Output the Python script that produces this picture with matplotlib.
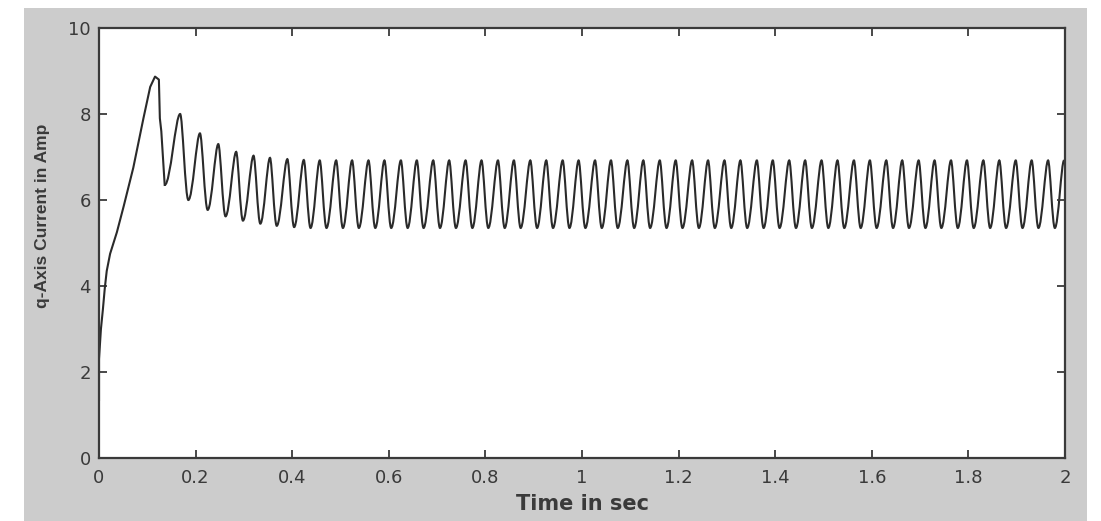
import matplotlib
matplotlib.use("Agg")
import matplotlib.pyplot as plt
import numpy as np
from matplotlib.patches import Rectangle, PathPatch
from matplotlib.path import Path

# start-up transient (time in s, current in A)
rise_t = [0.0, 0.0, 0.004, 0.008, 0.012, 0.016, 0.023, 0.037, 0.051, 0.071,
          0.092, 0.106, 0.116, 0.124, 0.126, 0.129]
rise_i = [1.35, 2.3, 3.0, 3.45, 3.95, 4.35, 4.75, 5.25, 5.85, 6.75,
          7.9, 8.63, 8.87, 8.8, 7.9, 7.6]

# oscillation maxima
peak_t = [0.168, 0.209, 0.247, 0.284, 0.320, 0.354, 0.390, 0.424, 0.457,
          0.491, 0.524, 0.558, 0.591, 0.625, 0.658, 0.692, 0.725, 0.759,
          0.792, 0.826, 0.859, 0.893, 0.926, 0.960, 0.993, 1.027, 1.060,
          1.094, 1.127, 1.161, 1.194, 1.228, 1.261, 1.295, 1.328, 1.362,
          1.395, 1.429, 1.462, 1.496, 1.529, 1.563, 1.596, 1.630, 1.663,
          1.697, 1.730, 1.764, 1.797, 1.831, 1.864, 1.898, 1.931, 1.965,
          1.998]
peak_i = [8.0, 7.55, 7.3, 7.12, 7.03, 6.98, 6.95, 6.93, 6.92,
          6.92, 6.92, 6.92, 6.92, 6.92, 6.92, 6.92, 6.92, 6.92,
          6.92, 6.92, 6.92, 6.92, 6.92, 6.92, 6.92, 6.92, 6.92,
          6.92, 6.92, 6.92, 6.92, 6.92, 6.92, 6.92, 6.92, 6.92,
          6.92, 6.92, 6.92, 6.92, 6.92, 6.92, 6.92, 6.92, 6.92,
          6.92, 6.92, 6.92, 6.92, 6.92, 6.92, 6.92, 6.92, 6.92,
          6.92]

# oscillation minima
trough_t = [0.136, 0.185, 0.225, 0.262, 0.298, 0.334, 0.368, 0.404, 0.438,
            0.471, 0.505, 0.538, 0.572, 0.605, 0.639, 0.672, 0.706, 0.739,
            0.773, 0.806, 0.840, 0.873, 0.907, 0.940, 0.974, 1.007, 1.041,
            1.074, 1.108, 1.141, 1.175, 1.208, 1.242, 1.275, 1.309, 1.342,
            1.376, 1.409, 1.443, 1.476, 1.510, 1.543, 1.577, 1.610, 1.644,
            1.677, 1.711, 1.744, 1.778, 1.811, 1.845, 1.878, 1.912, 1.945,
            1.979]
trough_i = [6.35, 6.0, 5.77, 5.62, 5.52, 5.45, 5.40, 5.37, 5.35,
            5.35, 5.35, 5.35, 5.35, 5.35, 5.35, 5.35, 5.35, 5.35,
            5.35, 5.35, 5.35, 5.35, 5.35, 5.35, 5.35, 5.35, 5.35,
            5.35, 5.35, 5.35, 5.35, 5.35, 5.35, 5.35, 5.35, 5.35,
            5.35, 5.35, 5.35, 5.35, 5.35, 5.35, 5.35, 5.35, 5.35,
            5.35, 5.35, 5.35, 5.35, 5.35, 5.35, 5.35, 5.35, 5.35,
            5.35]

x_ticks = [0, 0.2, 0.4, 0.6, 0.8, 1, 1.2, 1.4, 1.6, 1.8, 2]
x_labels = ["0", "0.2", "0.4", "0.6", "0.8", "1", "1.2", "1.4", "1.6", "1.8", "2"]
y_ticks = [0, 2, 4, 6, 8, 10]

GRAY = "#cccccc"
DARK = "#3a3a3a"
LINE = "#2a2a2a"
PEAK_TAN = 0.3     # how sharp the maxima look
TROUGH_TAN = 0.38  # how round the minima look

plt.rcParams["font.family"] = ["DejaVu Sans"]

fig = plt.figure(figsize=(11.01, 5.21), dpi=100, facecolor="white")
# matlab style grey window behind the axes
fig.patches.append(Rectangle((24 / 1101., 0), 1063 / 1101., 513 / 521.,
                             transform=fig.transFigure, facecolor=GRAY,
                             edgecolor="none", zorder=-10))

ax = fig.add_axes([99 / 1101., 63 / 521., 966 / 1101., 430 / 521.])
ax.set_facecolor("white")

# transient part as a plain polyline
ax.plot(rise_t + [trough_t[0]], rise_i + [trough_i[0]], color=LINE,
        linewidth=1.5, solid_joinstyle="round")

# oscillation: smooth bezier strokes between consecutive extrema
ext_t = np.concatenate([trough_t, peak_t])
ext_i = np.concatenate([trough_i, peak_i])
is_peak = np.concatenate([np.zeros(len(trough_t), bool), np.ones(len(peak_t), bool)])
order = np.argsort(ext_t, kind="stable")
ext_t, ext_i, is_peak = ext_t[order], ext_i[order], is_peak[order]

verts = [(ext_t[0], ext_i[0])]
codes = [Path.MOVETO]
for k in range(1, len(ext_t)):
    t0, y0, t1, y1 = ext_t[k - 1], ext_i[k - 1], ext_t[k], ext_i[k]
    d = t1 - t0
    a = PEAK_TAN if is_peak[k - 1] else TROUGH_TAN
    b = PEAK_TAN if is_peak[k] else TROUGH_TAN
    verts += [(t0 + a * d, y0), (t1 - b * d, y1), (t1, y1)]
    codes += [Path.CURVE4] * 3
ax.add_patch(PathPatch(Path(verts, codes), facecolor="none", edgecolor=LINE,
                       linewidth=1.5))

ax.set_xlim(0, 2)
ax.set_ylim(0, 10)
ax.set_xticks(x_ticks)
ax.set_xticklabels(x_labels)
ax.set_yticks(y_ticks)

for side in ax.spines.values():
    side.set_color(DARK)
    side.set_linewidth(1.6)
ax.tick_params(direction="in", length=5.5, width=1.3, color=DARK,
               top=True, right=True, labelsize=13, labelcolor=DARK)
ax.tick_params(axis="x", pad=8)
ax.tick_params(axis="y", pad=6)

ax.set_xlabel("Time in sec", fontsize=15, fontweight="bold", color=DARK,
              labelpad=5)
ax.set_ylabel("q-Axis Current in Amp", fontsize=12.5, fontweight="bold",
              color=DARK, family="Liberation Sans")
ax.yaxis.set_label_coords(-0.051, 0.563)

fig.savefig("out.png", dpi=100, facecolor=fig.get_facecolor())
